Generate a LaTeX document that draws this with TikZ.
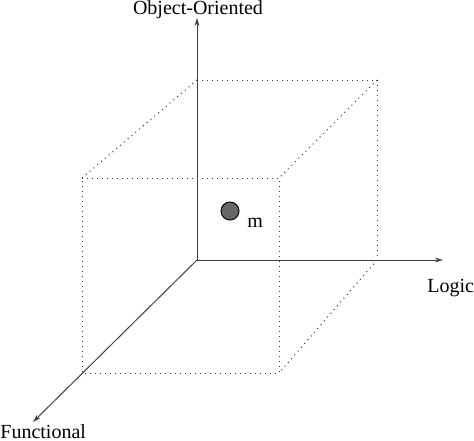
\documentclass[tikz,border=0pt]{standalone}
\usepackage{fontspec}
\setmainfont{Liberation Serif}
\usetikzlibrary{arrows.meta}

\begin{document}
\begin{tikzpicture}[x=0.5pt,y=-0.5pt,
    axis/.style={draw=black!75,line width=0.5pt,-{Stealth[length=4pt,width=2.4pt]}},
    cubeedge/.style={draw=black!80,dotted,line width=0.5pt},
    lbl/.style={inner sep=0pt,font=\fontsize{10}{12}\selectfont}]
			\useasboundingbox (0,0) rectangle (474,440);
			% cube corners
			\coordinate (o) at (197,260);
			\coordinate (btl) at (197,80);
			\coordinate (btr) at (377,80);
			\coordinate (bbr) at (377,260);
			\coordinate (ftl) at (82,178);
			\coordinate (ftr) at (279,178);
			\coordinate (fbr) at (279,373);
			\coordinate (fbl) at (82,373);
			\draw[cubeedge] (btl) -- (btr) -- (bbr);
			\draw[cubeedge] (ftl) -- (ftr) -- (fbr) -- (fbl) -- cycle;
			\draw[cubeedge] (btl) -- (ftl);
			\draw[cubeedge] (btr) -- (ftr);
			\draw[cubeedge] (bbr) -- (fbr);
			% axes
			\coordinate (oo) at (197,18);
			\coordinate (lg) at (443,260);
			\coordinate (fn) at (33,422);
			\draw[axis] (o) -- (oo);
			\draw[axis] (o) -- (lg);
			\draw[axis] (o) -- (fn);
			\node[lbl,anchor=base] (oolabel) at (198,14) {Object-Oriented};
			\node[lbl,anchor=base west] (lglabel) at (427,292) {Logic};
			\node[lbl,anchor=base west] (fnlabel) at (0,438) {Functional};
			% the point m
			\node[circle,draw=black,fill=black!60,line width=0.5pt,minimum size=9pt,inner sep=0pt] (m) at (230,211) {};
			\node[lbl,anchor=base west] (mlabel) at (247,227) {m};
		\end{tikzpicture}
\end{document}
